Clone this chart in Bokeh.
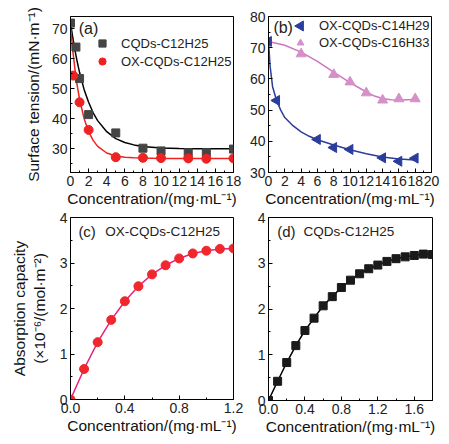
import math
from bokeh.plotting import figure
from bokeh.layouts import row, column
from bokeh.models import (Range1d, FixedTicker, LinearAxis,
                          PrintfTickFormatter, Legend, LegendItem, Label)
from bokeh.embed import file_html
from bokeh.resources import INLINE

FONT = "Liberation Sans"

# ---------------- data ----------------
# (a) surface tension vs concentration
a_cqd_x = [0, 0.6, 1, 2, 5, 8, 10, 13, 15, 18]
a_cqd_y = [71.8, 63.8, 53.3, 41.3, 35.2, 30.1, 29.2, 28.6, 28.6, 29.8]
a_ox_x = [0.3, 1, 2, 5, 8, 10, 13, 15, 18]
a_ox_y = [54.3, 45.4, 36.2, 27.1, 26.9, 26.8, 26.7, 26.6, 26.7]
a_cqd_fit_x = [0, 0.25, 0.5, 0.75, 1, 1.5, 2, 2.5, 3, 4, 5, 6, 7, 8, 10, 12, 14, 18]
a_cqd_fit_y = [71.9, 67.0, 62.6, 58.8, 55.4, 49.7, 45.4, 41.9, 39.3, 35.6, 33.3,
               32.0, 31.2, 30.7, 30.2, 30.0, 29.9, 29.9]
a_ox_fit_x = [0, 0.25, 0.5, 0.75, 1, 1.5, 2, 2.5, 3, 4, 5, 6, 7, 8, 10, 18]
a_ox_fit_y = [70.7, 62.7, 56.2, 50.8, 46.5, 40.0, 35.6, 32.7, 30.7, 28.5, 27.5,
              27.1, 26.9, 26.8, 26.7, 26.7]

# (b)
b_c14_x = [0, 1, 6, 8, 10, 14, 16, 18]
b_c14_y = [72.0, 53.1, 40.6, 38.0, 37.4, 34.7, 33.6, 34.6]
b_c16_x = [4, 8, 10, 12, 14, 16, 18]
b_c16_y = [68.0, 61.4, 59.0, 55.5, 53.2, 53.6, 53.6]
b_c14_fit_x = [0, 0.2, 0.5, 1, 1.5, 2, 3, 4, 5, 6, 8, 10, 12, 14, 16, 18]
b_c14_fit_y = [72.0, 64.0, 57.5, 53.0, 50.0, 47.6, 45.0, 43.0, 41.6, 40.5, 38.8,
               37.3, 36.0, 35.0, 34.3, 34.0]
b_c16_fit_x = [0, 2, 4, 6, 8, 10, 12, 13, 14, 15, 16, 17, 18]
b_c16_fit_y = [72.0, 70.8, 68.6, 65.6, 62.2, 58.8, 55.8, 54.5, 53.7, 53.3, 53.2,
               53.3, 53.4]

# (c) OX-CQDs-C12H25 absorption
c_x = [0, 0.1, 0.2, 0.3, 0.4, 0.5, 0.6, 0.7, 0.8, 0.9, 1.0, 1.1, 1.2]
c_y = [0, 0.67, 1.26, 1.75, 2.16, 2.49, 2.75, 2.95, 3.10, 3.21, 3.27, 3.31, 3.32]

# (d) CQDs-C12H25 absorption
d_x = [0, 0.1, 0.2, 0.3, 0.4, 0.5, 0.6, 0.7, 0.8, 0.9, 1.0, 1.1, 1.2, 1.3, 1.4,
       1.5, 1.6, 1.7, 1.8]
d_y = [0, 0.42, 0.83, 1.20, 1.53, 1.80, 2.07, 2.27, 2.47, 2.63, 2.77, 2.88, 2.96,
       3.04, 3.10, 3.14, 3.17, 3.20, 3.19]

# tick positions
a_xticks = [0, 2, 4, 6, 8, 10, 12, 14, 16, 18]
a_xminor = [1, 3, 5, 7, 9, 11, 13, 15, 17]
a_yticks = [30, 40, 50, 60, 70]
a_yminor = [25, 35, 45, 55, 65]
b_xticks = [0, 2, 4, 6, 8, 10, 12, 14, 16, 18, 20]
b_xminor = [1, 3, 5, 7, 9, 11, 13, 15, 17, 19]
b_yticks = [30, 40, 50, 60, 70, 80]
b_yminor = [35, 45, 55, 65, 75]
c_xticks = [0.0, 0.4, 0.8, 1.2]
c_xminor = [0.2, 0.6, 1.0]
d_xticks = [0.0, 0.4, 0.8, 1.2, 1.6]
d_xminor = [0.2, 0.6, 1.0, 1.4, 1.8]
cd_yticks = [0, 1, 2, 3, 4]
cd_yminor = [0.5, 1.5, 2.5, 3.5]

xlabel = "Concentration/(mg·mL⁻¹)"

TICK_PX = "14px"
LABEL_PX = "15.5px"


def make_fig(xr, yr, fw, fh, bl, br, bt, bb, xt, xm, yt, ym, xfmt=None):
    p = figure(x_range=Range1d(*xr), y_range=Range1d(*yr),
               frame_width=fw, frame_height=fh,
               min_border_left=bl, min_border_right=br,
               min_border_top=bt, min_border_bottom=bb,
               output_backend="svg", toolbar_location=None)
    p.xgrid.visible = False
    p.ygrid.visible = False
    p.outline_line_color = "black"
    p.outline_line_width = 1
    p.background_fill_color = "white"
    p.border_fill_color = "white"
    p.xaxis.ticker = FixedTicker(ticks=xt, minor_ticks=xm)
    p.yaxis.ticker = FixedTicker(ticks=yt, minor_ticks=ym)
    if xfmt:
        p.xaxis.formatter = PrintfTickFormatter(format=xfmt)
    for ax in (p.xaxis[0], p.yaxis[0]):
        ax.major_tick_in = 4
        ax.major_tick_out = 0
        ax.minor_tick_in = 2
        ax.minor_tick_out = 0
        ax.axis_line_color = "black"
        ax.major_tick_line_color = "black"
        ax.minor_tick_line_color = "black"
        ax.major_label_text_font = FONT
        ax.major_label_text_font_size = TICK_PX
        ax.major_label_text_color = "#222222"
        ax.major_label_standoff = 3
        ax.axis_label_text_font = FONT
        ax.axis_label_text_font_size = LABEL_PX
        ax.axis_label_text_font_style = "normal"
        ax.axis_label_text_color = "#111111"
        ax.axis_label_standoff = 3
    p.xaxis.axis_label = xlabel
    p.xaxis.axis_label_standoff = 1
    return p


def panel_text(p, x, y, txt, size="13px"):
    p.add_layout(Label(x=x, y=y, text=txt, text_font=FONT, text_font_size=size,
                       text_baseline="middle", text_align="left",
                       text_color="#222222"))


def make_legend(items, loc, row_h):
    return Legend(items=items, location=loc, orientation="vertical",
                  background_fill_alpha=0, border_line_color=None,
                  padding=0, margin=0, spacing=0, glyph_width=20,
                  glyph_height=row_h, label_height=row_h, label_standoff=9,
                  label_text_font=FONT, label_text_font_size="13px",
                  label_text_color="#222222")


# ---------------- (a) ----------------
pa = make_fig((0, 18), (22, 74), 163, 156, 70, 11, 16, 36,
              a_xticks, a_xminor, a_yticks, a_yminor)
pa.yaxis.axis_label = "Surface tension/(mN·m⁻¹)"
pa.yaxis.axis_label_standoff = 7
pa.line(a_cqd_fit_x, a_cqd_fit_y, line_color="black", line_width=1.5)
pa.line(a_ox_fit_x, a_ox_fit_y, line_color="#ee2222", line_width=1.5)
ra1 = pa.scatter(a_cqd_x, a_cqd_y, marker="square", size=8, fill_color="#454545",
                 line_color="#454545")
ra2 = pa.scatter(a_ox_x, a_ox_y, marker="circle", size=9, fill_color="#ee2222",
                 line_color="#ee2222")
pa.add_layout(make_legend([LegendItem(label="CQDs-C12H25", renderers=[ra1]),
                           LegendItem(label="OX-CQDs-C12H25", renderers=[ra2])],
                          (22, 102), 18))
panel_text(pa, 0.9, 70, "(a)", "16px")

# ---------------- (b) ----------------
B_XR, B_YR, B_FW, B_FH = (0, 20), (30, 80), 163, 156
LEG_B, ROW_B = (22, 121), 17
BLUE, PINK = "#2b3d9c", "#d690c8"
pb = make_fig(B_XR, B_YR, B_FW, B_FH, 24, 14, 14, 38,
              b_xticks, b_xminor, b_yticks, b_yminor)
pb.line(b_c14_fit_x, b_c14_fit_y, line_color=BLUE, line_width=1.5)
pb.line(b_c16_fit_x, b_c16_fit_y, line_color="#cc78c0", line_width=1.5)
pb.scatter(b_c14_x, b_c14_y, marker="triangle", angle=math.pi / 2, size=10,
           fill_color=BLUE, line_color=BLUE)
rb2 = pb.scatter(b_c16_x, b_c16_y, marker="triangle", size=10,
                 fill_color=PINK, line_color=PINK)
# legend glyphs ignore marker rotation, so the left-pointing key is drawn
# as its own glyph at the legend's first row and the legend item uses a ghost
ghost = pb.scatter([], [], marker="triangle", size=10, fill_alpha=0, line_alpha=0)
key_x = B_XR[0] + (LEG_B[0] + 10) / B_FW * (B_XR[1] - B_XR[0])
key_y = B_YR[0] + (LEG_B[1] + 1.5 * ROW_B) / B_FH * (B_YR[1] - B_YR[0])
pb.scatter([key_x], [key_y], marker="triangle", angle=math.pi / 2, size=10,
           fill_color=BLUE, line_color=BLUE)
pb.add_layout(make_legend([LegendItem(label="OX-CQDs-C14H29", renderers=[ghost]),
                           LegendItem(label="OX-CQDs-C16H33", renderers=[rb2])],
                          LEG_B, ROW_B))
panel_text(pb, 0.6, 76.6, "(b)", "16px")

# ---------------- (c) ----------------
pc = make_fig((0, 1.2), (0, 4), 163, 182, 70, 11, 8, 40,
              c_xticks, c_xminor, cd_yticks, cd_yminor, "%.1f")
pc.yaxis.axis_label = "(×10⁻⁶/(mol·m⁻²)"
pc.yaxis.axis_label_standoff = 9
outer = LinearAxis(axis_label="Absorption capacity", ticker=FixedTicker(ticks=[]),
                   axis_line_color=None, major_tick_line_color=None,
                   minor_tick_line_color=None, axis_label_standoff=0,
                   major_label_standoff=0, major_tick_in=0, major_tick_out=0,
                   minor_tick_in=0, minor_tick_out=0,
                   axis_label_text_font=FONT, axis_label_text_font_size=LABEL_PX,
                   axis_label_text_font_style="normal",
                   axis_label_text_color="#111111")
pc.add_layout(outer, "left")
pc.line(c_x, c_y, line_color="#e8207a", line_width=1.5)
pc.scatter(c_x, c_y, marker="circle", size=9, fill_color="#f0282e",
           line_color="#f0282e")
panel_text(pc, 0.058, 3.7, "(c)", "15px")
panel_text(pc, 0.255, 3.7, "OX-CQDs-C12H25", "13.5px")

# ---------------- (d) ----------------
pd_ = make_fig((0, 1.8), (0, 4), 164, 183, 24, 13, 8, 39,
               d_xticks, d_xminor, cd_yticks, cd_yminor, "%.1f")
pd_.line(d_x, d_y, line_color="black", line_width=1.5)
pd_.scatter(d_x, d_y, marker="square", size=8, fill_color="#1a1a1a",
            line_color="#1a1a1a")
panel_text(pd_, 0.095, 3.7, "(d)", "15px")
panel_text(pd_, 0.384, 3.7, "CQDs-C12H25", "13.5px")

layout = column(row(pa, pb, spacing=0), row(pc, pd_, spacing=0), spacing=0)

open("out.html", "w").write(file_html(layout, INLINE))
